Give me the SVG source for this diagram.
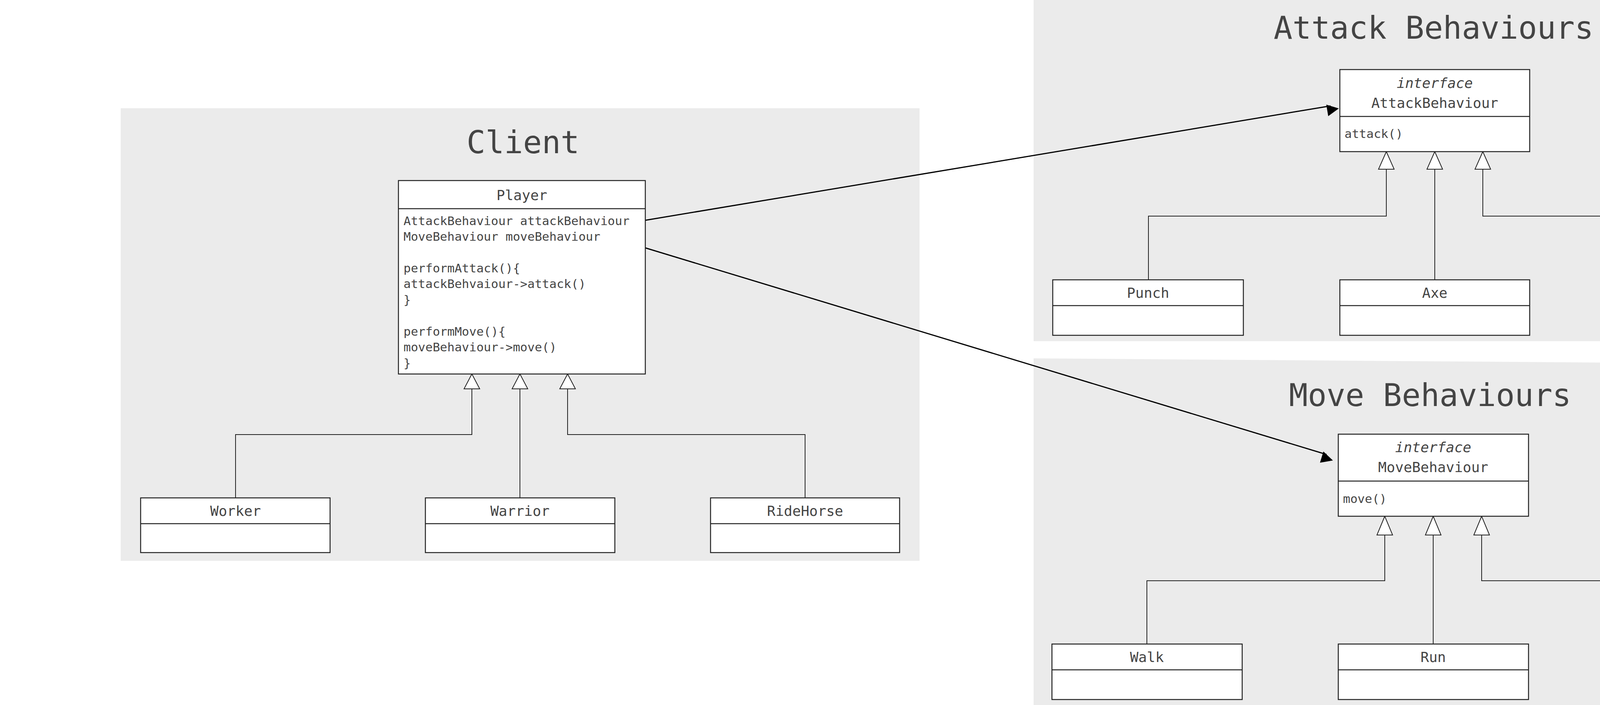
<svg xmlns="http://www.w3.org/2000/svg" width="5000" height="1804" viewBox="0 0 5000 1804">
<style>
.panel{fill:#ebebeb}
.box{fill:#fff;stroke:#222;stroke-width:2.5}
.t{font-family:"DejaVu Sans Mono","Liberation Mono",monospace;fill:#444}
.title{font-size:80px;text-anchor:middle}
.cn{font-size:36px;text-anchor:middle}
.m{font-size:31px}
.it{font-style:italic}
.gen{fill:none;stroke:#222;stroke-width:2}
.tri{fill:#fff;stroke:#222;stroke-width:2}
.assoc{fill:none;stroke:#000;stroke-width:3;marker-end:url(#arr)}
</style>
<defs>
<marker id="arr" viewBox="0 0 10 10" refX="10" refY="5" markerWidth="10" markerHeight="10" markerUnits="userSpaceOnUse" orient="auto" overflow="visible">
<path d="M0,0 L10,5 L0,10 Z" fill="#000" transform="scale(3)"/>
</marker>
</defs>
<rect class="panel" x="309" y="277" width="2045" height="1158"/>
<rect class="panel" x="2646" y="0" width="2042" height="873"/>
<polygon class="panel" points="2646,917 4688,932 4688,1804 2646,1804"/>
<text class="t title" x="1339" y="392">Client</text>
<text class="t title" x="3670" y="99">Attack Behaviours</text>
<text class="t title" x="3661" y="1039">Move Behaviours</text>

<g id="connectors">
<path class="gen" d="M603,1274 V1112 H1208 V995 M1331,1274 V995 M2061,1274 V1112 H1453 V995"/>
<polygon class="tri" points="1208,957 1188,995 1228,995"/>
<polygon class="tri" points="1331,957 1311,995 1351,995"/>
<polygon class="tri" points="1453,957 1433,995 1473,995"/>
<path class="gen" d="M2940,716 V553 H3549 V433 M3673,716 V433 M4406,716 V553 H3796 V433"/>
<polygon class="tri" points="3549,388 3529,433 3569,433"/>
<polygon class="tri" points="3673,388 3653,433 3693,433"/>
<polygon class="tri" points="3796,388 3776,433 3816,433"/>
<path class="gen" d="M2936,1648 V1486 H3545 V1369 M3669,1648 V1369 M4403,1648 V1486 H3793 V1369"/>
<polygon class="tri" points="3545,1321 3525,1369 3565,1369"/>
<polygon class="tri" points="3669,1321 3649,1369 3689,1369"/>
<polygon class="tri" points="3793,1321 3773,1369 3813,1369"/>
<line class="assoc" x1="1650" y1="564" x2="3406" y2="271"/>
<line class="assoc" x1="1572" y1="610" x2="3396" y2="1163"/>
</g>

<g id="player">
<rect class="box" x="1020" y="462" width="632" height="495"/>
<line class="box" x1="1020" y1="534" x2="1652" y2="534"/>
<text class="t cn" x="1336" y="512">Player</text>
<text class="t m" x="1033" y="576">AttackBehaviour attackBehaviour</text>
<text class="t m" x="1033" y="616">MoveBehaviour moveBehaviour</text>
<text class="t m" x="1033" y="697">performAttack(){</text>
<text class="t m" x="1033" y="737">attackBehvaiour-&gt;attack()</text>
<text class="t m" x="1033" y="778">}</text>
<text class="t m" x="1033" y="859">performMove(){</text>
<text class="t m" x="1033" y="899">moveBehaviour-&gt;move()</text>
<text class="t m" x="1033" y="940">}</text>
</g>
<g id="worker"><rect class="box" x="360" y="1274" width="485" height="140"/><line class="box" x1="360" y1="1340" x2="845" y2="1340"/><text class="t cn" x="603" y="1320">Worker</text></g>
<g id="warrior"><rect class="box" x="1089" y="1274" width="485" height="140"/><line class="box" x1="1089" y1="1340" x2="1574" y2="1340"/><text class="t cn" x="1331" y="1320">Warrior</text></g>
<g id="ridehorse1"><rect class="box" x="1819" y="1274" width="484" height="140"/><line class="box" x1="1819" y1="1340" x2="2303" y2="1340"/><text class="t cn" x="2061" y="1320">RideHorse</text></g>

<g id="attackBehaviour">
<rect class="box" x="3430" y="178" width="486" height="210"/>
<line class="box" x1="3430" y1="298" x2="3916" y2="298"/>
<text class="t cn it" x="3673" y="225">interface</text>
<text class="t cn" x="3673" y="276">AttackBehaviour</text>
<text class="t m" x="3442" y="353">attack()</text>
</g>
<g id="punch"><rect class="box" x="2695" y="716" width="488" height="142"/><line class="box" x1="2695" y1="782" x2="3183" y2="782"/><text class="t cn" x="2939" y="762">Punch</text></g>
<g id="axe"><rect class="box" x="3430" y="716" width="486" height="142"/><line class="box" x1="3430" y1="782" x2="3916" y2="782"/><text class="t cn" x="3673" y="762">Axe</text></g>
<g id="noattack"><rect class="box" x="4163" y="716" width="488" height="142"/><line class="box" x1="4163" y1="782" x2="4651" y2="782"/><text class="t cn" x="4407" y="762">NoAttack</text></g>

<g id="moveBehaviour">
<rect class="box" x="3426" y="1111" width="487" height="210"/>
<line class="box" x1="3426" y1="1231" x2="3913" y2="1231"/>
<text class="t cn it" x="3669" y="1157">interface</text>
<text class="t cn" x="3669" y="1208">MoveBehaviour</text>
<text class="t m" x="3438" y="1287">move()</text>
</g>
<g id="walk"><rect class="box" x="2693" y="1648" width="487" height="142"/><line class="box" x1="2693" y1="1714" x2="3180" y2="1714"/><text class="t cn" x="2936" y="1694">Walk</text></g>
<g id="run"><rect class="box" x="3426" y="1648" width="487" height="142"/><line class="box" x1="3426" y1="1714" x2="3913" y2="1714"/><text class="t cn" x="3669" y="1694">Run</text></g>
<g id="ridehorse2"><rect class="box" x="4159" y="1648" width="489" height="142"/><line class="box" x1="4159" y1="1714" x2="4648" y2="1714"/><text class="t cn" x="4403" y="1694">RideHorse</text></g>
</svg>
